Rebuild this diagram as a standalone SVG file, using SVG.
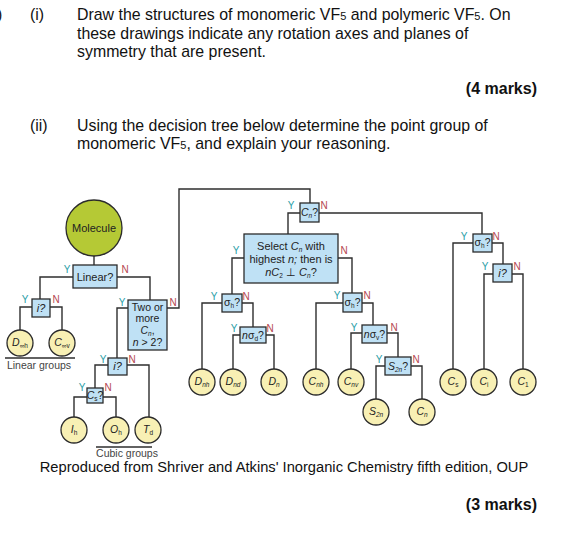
<svg xmlns="http://www.w3.org/2000/svg" width="569" height="545" viewBox="0 0 569 545">
<style>
.q{font-family:"Liberation Sans",Arial,sans-serif;font-size:15.9px;fill:#111}
.b{font-weight:bold;font-size:16px}
.r{font-size:14.7px}
.t{font-family:"Liberation Sans",Arial,sans-serif;font-size:11px;fill:#222;text-anchor:middle}
.s{font-size:10.5px}
.it{font-style:italic}
.sub{font-size:6.5px}
.Y{font-family:"Liberation Sans",Arial,sans-serif;font-size:10px;fill:#2a9ea6;text-anchor:middle}
.N{font-family:"Liberation Sans",Arial,sans-serif;font-size:10px;fill:#b5474f;text-anchor:middle}
.box{fill:#bfe1f5;stroke:#2b2b2b;stroke-width:1.3}
.pg{fill:#f8f0b4;stroke:#2b2b2b;stroke-width:1.3}
.c{fill:none;stroke:#2e2e2e;stroke-width:1.4}
.g{font-family:"Liberation Sans",Arial,sans-serif;font-size:10.5px;fill:#444;text-anchor:middle}
</style>
<rect width="569" height="545" fill="#ffffff"/>

<g id="question">
<text class="q" x="-3" y="20">)</text>
<text class="q" x="30" y="20">(i)</text>
<text class="q" x="77" y="20">Draw the structures of monomeric VF<tspan font-size="11">5</tspan> and polymeric VF<tspan font-size="11">5</tspan>. On</text>
<text class="q" x="77" y="39">these drawings indicate any rotation axes and planes of</text>
<text class="q" x="77" y="57">symmetry that are present.</text>
<text class="q b" x="537" y="94" text-anchor="end">(4 marks)</text>
<text class="q" x="30" y="131">(ii)</text>
<text class="q" x="77" y="131">Using the decision tree below determine the point group of</text>
<text class="q" x="77" y="149">monomeric VF<tspan font-size="11">5</tspan>, and explain your reasoning.</text>
<text class="q r" x="284" y="472" text-anchor="middle">Reproduced from Shriver and Atkins' Inorganic Chemistry fifth edition, OUP</text>
<text class="q b" x="537" y="510" text-anchor="end">(3 marks)</text>
</g>

<g id="connectors">
<path class="c" d="M94,256 V265"/>
<path class="c" d="M73,277 H40 V299"/>
<path class="c" d="M117,277 H150 V300"/>
<path class="c" d="M32,307 H20 V330"/>
<path class="c" d="M50,307 H62 V330"/>
<path class="c" d="M128,308 H117 V358"/>
<path class="c" d="M167,308 H179 V189 H310 V203"/>
<path class="c" d="M108,365 H95 V388"/>
<path class="c" d="M127,365 H149 V417"/>
<path class="c" d="M87,397 H74 V417"/>
<path class="c" d="M103,397 H116 V417"/>
<path class="c" d="M300,213 H288 V234"/>
<path class="c" d="M319,213 H482 V234"/>
<path class="c" d="M244,258 H232 V294"/>
<path class="c" d="M338,258 H352 V293"/>
<path class="c" d="M222,303 H202 V369"/>
<path class="c" d="M242,303 H253 V327"/>
<path class="c" d="M240,335 H233 V369"/>
<path class="c" d="M266,335 H274 V369"/>
<path class="c" d="M343,303 H316 V369"/>
<path class="c" d="M362,303 H373 V325"/>
<path class="c" d="M362,333 H351 V369"/>
<path class="c" d="M387,333 H398 V357"/>
<path class="c" d="M385,366 H376 V399"/>
<path class="c" d="M411,366 H422 V399"/>
<path class="c" d="M473,243 H453 V369"/>
<path class="c" d="M492,243 H503 V264"/>
<path class="c" d="M493,274 H484 V369"/>
<path class="c" d="M512,274 H523 V369"/>
<path class="c" d="M5,358 H75"/>
<path class="c" d="M96,447 H152"/>
</g>

<g id="molecule">
<circle cx="94" cy="228" r="28" fill="#b5c935" stroke="#2b2b2b" stroke-width="1.3"/>
<text class="t" x="94" y="232">Molecule</text>
</g>

<g id="linear">
<rect class="box" x="73" y="265" width="44" height="23"/>
<text class="t" x="95" y="281">Linear?</text>
<text class="Y" x="67" y="273">Y</text>
<text class="N" x="125" y="273">N</text>
</g>

<g id="i-linear">
<rect class="box" x="32" y="299" width="18" height="18"/>
<text class="t it" x="41" y="312">i?</text>
<text class="Y" x="25" y="303">Y</text>
<text class="N" x="56" y="303">N</text>
</g>

<g id="Dinfh"><circle class="pg" cx="20" cy="343" r="13"/><text class="t s" x="20" y="346"><tspan class="it">D</tspan><tspan class="sub" dy="2">∞h</tspan></text></g>
<g id="Cinfv"><circle class="pg" cx="62" cy="343" r="13"/><text class="t s" x="62" y="346"><tspan class="it">C</tspan><tspan class="sub" dy="2">∞v</tspan></text></g>
<g id="linear-groups"><text class="g" x="39" y="369">Linear groups</text></g>

<g id="two-or-more">
<rect class="box" x="128" y="300" width="39" height="50"/>
<text class="t s" x="147.5" y="311">Two or</text>
<text class="t s" x="147.5" y="322">more</text>
<text class="t s" x="147.5" y="334"><tspan class="it">C</tspan><tspan class="sub it" dy="2">n</tspan><tspan dy="-2">,</tspan></text>
<text class="t s" x="147.5" y="346"><tspan class="it">n</tspan> &gt; 2?</text>
<text class="Y" x="122" y="306">Y</text>
<text class="N" x="173" y="306">N</text>
</g>

<g id="i-cubic">
<rect class="box" x="108" y="358" width="19" height="17"/>
<text class="t it" x="117.5" y="370">i?</text>
<text class="Y" x="103" y="363">Y</text>
<text class="N" x="132" y="363">N</text>
</g>

<g id="Cs-q">
<rect class="box" x="87" y="388" width="16" height="15"/>
<text class="t s" x="95" y="399"><tspan class="it">C</tspan><tspan class="sub" dy="2">s</tspan><tspan dy="-2">?</tspan></text>
<text class="Y" x="82" y="391">Y</text>
<text class="N" x="108" y="391">N</text>
</g>

<g id="Ih"><circle class="pg" cx="74" cy="430" r="13"/><text class="t s" x="74" y="433"><tspan class="it">I</tspan><tspan class="sub" dy="2">h</tspan></text></g>
<g id="Oh"><circle class="pg" cx="116" cy="430" r="13"/><text class="t s" x="116" y="433"><tspan class="it">O</tspan><tspan class="sub" dy="2">h</tspan></text></g>
<g id="Td"><circle class="pg" cx="148" cy="430" r="13"/><text class="t s" x="148" y="433"><tspan class="it">T</tspan><tspan class="sub" dy="2">d</tspan></text></g>
<g id="cubic-groups"><text class="g" x="127" y="457">Cubic groups</text></g>

<g id="Cn-q">
<rect class="box" x="300" y="203" width="19" height="19"/>
<text class="t s" x="309.5" y="216"><tspan class="it">C</tspan><tspan class="sub it" dy="2">n</tspan><tspan dy="-2">?</tspan></text>
<text class="Y" x="291" y="209">Y</text>
<text class="N" x="324" y="209">N</text>
</g>

<g id="select">
<rect class="box" x="244" y="234" width="94" height="49"/>
<text class="t" x="291" y="250">Select <tspan class="it">C</tspan><tspan class="sub it" dy="2">n</tspan><tspan dy="-2"> with</tspan></text>
<text class="t" x="291" y="263">highest <tspan class="it">n;</tspan> then is</text>
<text class="t" x="291" y="276"><tspan class="it">nC</tspan><tspan class="sub" dy="2">2</tspan><tspan dy="-2"> ⊥ </tspan><tspan class="it">C</tspan><tspan class="sub it" dy="2">n</tspan><tspan dy="-2">?</tspan></text>
<text class="Y" x="236" y="254">Y</text>
<text class="N" x="344" y="254">N</text>
</g>

<g id="sigmah-D">
<rect class="box" x="222" y="294" width="20" height="18"/>
<text class="t s" x="232" y="306">σ<tspan class="sub" dy="2">h</tspan><tspan dy="-2">?</tspan></text>
<text class="Y" x="214" y="300">Y</text>
<text class="N" x="246" y="300">N</text>
</g>

<g id="nsigmad">
<rect class="box" x="240" y="327" width="26" height="16"/>
<text class="t s" x="253" y="339"><tspan class="it">n</tspan>σ<tspan class="sub" dy="2">d</tspan><tspan dy="-2">?</tspan></text>
<text class="Y" x="234" y="332">Y</text>
<text class="N" x="270" y="332">N</text>
</g>

<g id="Dnh"><circle class="pg" cx="202" cy="382" r="13"/><text class="t s" x="202" y="385"><tspan class="it">D</tspan><tspan class="sub it" dy="2">nh</tspan></text></g>
<g id="Dnd"><circle class="pg" cx="233" cy="382" r="13"/><text class="t s" x="233" y="385"><tspan class="it">D</tspan><tspan class="sub it" dy="2">nd</tspan></text></g>
<g id="Dn"><circle class="pg" cx="274" cy="382" r="13"/><text class="t s" x="274" y="385"><tspan class="it">D</tspan><tspan class="sub it" dy="2">n</tspan></text></g>

<g id="sigmah-C">
<rect class="box" x="343" y="293" width="19" height="19"/>
<text class="t s" x="352.5" y="306">σ<tspan class="sub" dy="2">h</tspan><tspan dy="-2">?</tspan></text>
<text class="Y" x="337" y="299">Y</text>
<text class="N" x="367" y="299">N</text>
</g>

<g id="nsigmav">
<rect class="box" x="362" y="325" width="25" height="18"/>
<text class="t s" x="374.5" y="338"><tspan class="it">n</tspan>σ<tspan class="sub" dy="2">v</tspan><tspan dy="-2">?</tspan></text>
<text class="Y" x="354" y="331">Y</text>
<text class="N" x="394" y="331">N</text>
</g>

<g id="S2n-q">
<rect class="box" x="385" y="357" width="26" height="18"/>
<text class="t s" x="398" y="370"><tspan class="it">S</tspan><tspan class="sub it" dy="2">2n</tspan><tspan dy="-2">?</tspan></text>
<text class="Y" x="379" y="363">Y</text>
<text class="N" x="416" y="363">N</text>
</g>

<g id="Cnh"><circle class="pg" cx="316" cy="382" r="13"/><text class="t s" x="316" y="385"><tspan class="it">C</tspan><tspan class="sub it" dy="2">nh</tspan></text></g>
<g id="Cnv"><circle class="pg" cx="351" cy="382" r="13"/><text class="t s" x="351" y="385"><tspan class="it">C</tspan><tspan class="sub it" dy="2">nv</tspan></text></g>
<g id="S2n"><circle class="pg" cx="376" cy="412" r="13"/><text class="t s" x="376" y="415"><tspan class="it">S</tspan><tspan class="sub it" dy="2">2n</tspan></text></g>
<g id="Cn"><circle class="pg" cx="422" cy="412" r="13"/><text class="t s" x="422" y="415"><tspan class="it">C</tspan><tspan class="sub it" dy="2">n</tspan></text></g>

<g id="sigmah-low">
<rect class="box" x="473" y="234" width="19" height="18"/>
<text class="t s" x="482.5" y="246">σ<tspan class="sub" dy="2">h</tspan><tspan dy="-2">?</tspan></text>
<text class="Y" x="464" y="240">Y</text>
<text class="N" x="496" y="240">N</text>
</g>

<g id="i-low">
<rect class="box" x="493" y="264" width="19" height="18"/>
<text class="t it" x="502.5" y="277">i?</text>
<text class="Y" x="485" y="270">Y</text>
<text class="N" x="517" y="270">N</text>
</g>

<g id="Cs"><circle class="pg" cx="453" cy="382" r="13"/><text class="t s" x="453" y="385"><tspan class="it">C</tspan><tspan class="sub" dy="2">s</tspan></text></g>
<g id="Ci"><circle class="pg" cx="484" cy="382" r="13"/><text class="t s" x="484" y="385"><tspan class="it">C</tspan><tspan class="sub" dy="2">i</tspan></text></g>
<g id="C1"><circle class="pg" cx="523" cy="382" r="13"/><text class="t s" x="523" y="385"><tspan class="it">C</tspan><tspan class="sub" dy="2">1</tspan></text></g>
</svg>
